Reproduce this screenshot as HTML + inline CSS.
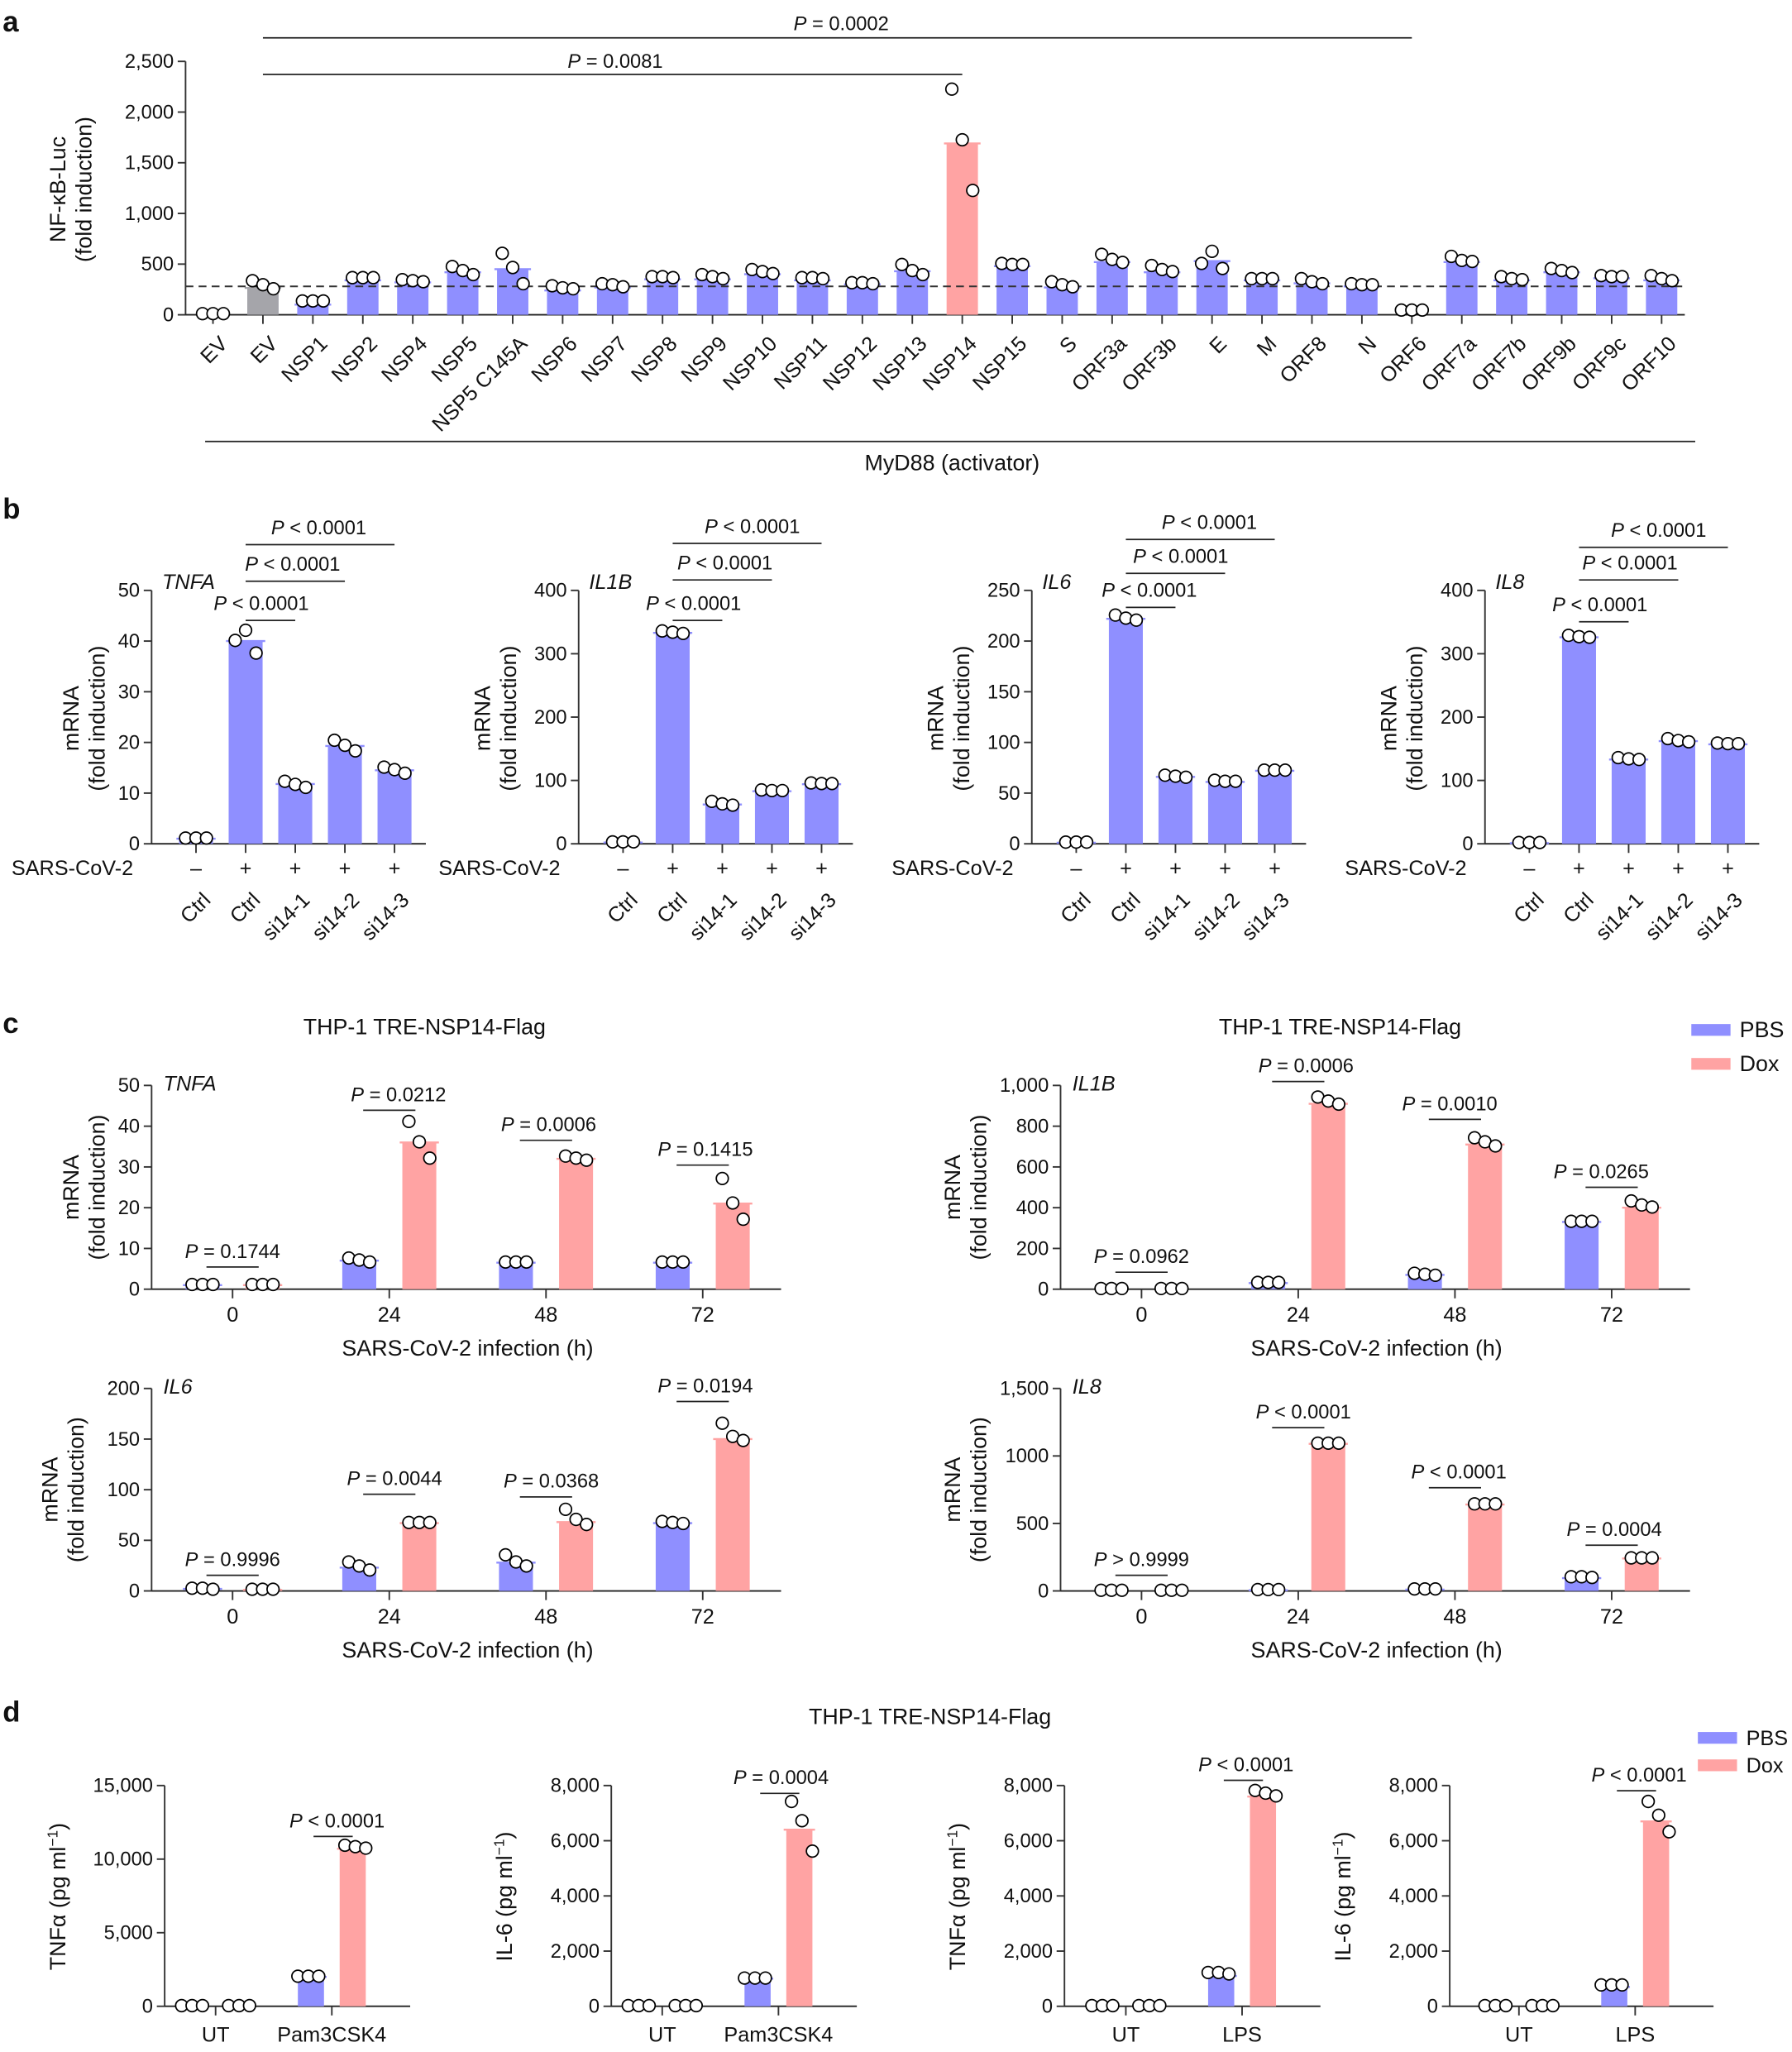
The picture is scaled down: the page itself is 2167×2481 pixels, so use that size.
<!DOCTYPE html>
<html><head><meta charset="utf-8">
<style>
html,body{margin:0;padding:0;background:#fff}
svg{display:block}
text{font-family:"Liberation Sans",sans-serif;fill:#111}
</style></head>
<body>
<svg id="fig" xmlns="http://www.w3.org/2000/svg" width="2167" height="2481" viewBox="0 0 1372 1571"></svg>
<script>
// ---------- DATA ----------
const aCats=["EV","EV","NSP1","NSP2","NSP4","NSP5","NSP5 C145A","NSP6","NSP7","NSP8","NSP9","NSP10","NSP11","NSP12","NSP13","NSP14","NSP15","S","ORF3a","ORF3b","E","M","ORF8","N","ORF6","ORF7a","ORF7b","ORF9b","ORF9c","ORF10"];
const aVals=[0,265,100,340,320,420,450,240,270,350,350,400,340,300,430,1690,480,270,520,420,530,340,310,280,0,520,340,420,360,340];
const aPts=[[5,5,5],[330,290,250],[130,130,130],[360,360,360],[340,330,320],[470,430,390],[600,460,300],[280,260,250],[300,290,270],[370,370,360],[390,370,350],[440,420,400],[360,360,350],[310,310,300],[490,430,390],[2220,1720,1220],[500,490,490],[320,290,270],[590,540,510],[480,440,420],[500,620,450],[350,350,350],[350,320,300],[300,290,290],[40,40,40],[570,530,520],[370,350,340],[450,430,410],[380,370,370],[380,350,330]];
const aColors=["none","gray","b","b","b","b","b","b","b","b","b","b","b","b","b","r","b","b","b","b","b","b","b","b","r","b","b","b","b","b"];
const aTicks=[0,500,1000,1500,2000,2500];
const aTickLabels=["0","500","1,000","1,500","2,000","2,500"];
const aDashed=280;

const bCats=["Ctrl","Ctrl","si14-1","si14-2","si14-3"];
const bSigns=["–","+","+","+","+"];
const bGenes=["TNFA","IL1B","IL6","IL8"];
const bMax=[50,400,250,400];
const bTicks=[[0,10,20,30,40,50],[0,100,200,300,400],[0,50,100,150,200,250],[0,100,200,300,400]];
const bVals=[[1,40,11.8,19.3,14.5],[2,333,62,83,94],[1,222,66,61,72],[1,326,133,162,157]];
const bPts=[[[1,1,1],[40,42,37.5],[12.2,11.6,11],[20.3,19.3,18.2],[15,14.5,13.8]],[[2,2,2],[335,333,331],[66,62,60],[84,83,83],[95,94,94]],[[1,1,1],[225,222,220],[67,66,65],[62,61,61],[72,72,72]],[[1,1,1],[328,326,325],[135,133,132],[165,162,160],[158,157,157]]];

const cGroups=["0","24","48","72"];
const cGenes=["TNFA","IL1B","IL6","IL8"];
const cMax=[50,1000,200,1500];
const cTicks=[[0,10,20,30,40,50],[0,200,400,600,800,1000],[0,50,100,150,200],[0,500,1000,1500]];
const cTickLabels=[["0","10","20","30","40","50"],["0","200","400","600","800","1,000"],["0","50","100","150","200"],["0","500","1000","1,500"]];
const cPBS=[[1,7,6.5,6.5],[0,30,70,330],[2,23,28,67],[0,5,10,95]];
const cDox=[[1,36,32,21],[0,910,710,400],[1,67,68,150],[0,1090,640,240]];
const cPBSpts=[[[1,1,1],[7.5,7,6.5],[6.5,6.5,6.5],[6.5,6.5,6.5]],[[0,0,0],[30,30,30],[75,70,65],[330,330,330]],[[2,2,1],[28,24,20],[35,28,24],[68,67,66]],[[0,0,0],[5,5,5],[10,10,10],[100,100,95]]];
const cDoxPts=[[[1,1,1],[41,36,32],[32.5,32,31.5],[27,21,17]],[[0,0,0],[940,920,905],[740,720,700],[430,410,400]],[[1,1,1],[67,67,67],[80,70,65],[165,152,148]],[[0,0,0],[1090,1090,1090],[640,640,640],[240,240,240]]];
const cP=[["P = 0.1744","P = 0.0212","P = 0.0006","P = 0.1415"],["P = 0.0962","P = 0.0006","P = 0.0010","P = 0.0265"],["P = 0.9996","P = 0.0044","P = 0.0368","P = 0.0194"],["P > 0.9999","P < 0.0001","P < 0.0001","P = 0.0004"]];

const dGroups=[["UT","Pam3CSK4"],["UT","Pam3CSK4"],["UT","LPS"],["UT","LPS"]];
const dMax=[15000,8000,8000,8000];
const dTicks=[[0,5000,10000,15000],[0,2000,4000,6000,8000],[0,2000,4000,6000,8000],[0,2000,4000,6000,8000]];
const dTickLabels=[["0","5,000","10,000","15,000"],["0","2,000","4,000","6,000","8,000"],["0","2,000","4,000","6,000","8,000"],["0","2,000","4,000","6,000","8,000"]];
const dPBS=[[0,2000],[0,1000],[0,1100],[0,700]];
const dDox=[[0,10700],[0,6400],[0,7600],[0,6700]];
const dPBSpts=[[[0,0,0],[2000,2000,2000]],[[0,0,0],[1000,1000,1000]],[[0,0,0],[1200,1200,1150]],[[0,0,0],[750,750,750]]];
const dDoxPts=[[[0,0,0],[10900,10800,10700]],[[0,0,0],[7400,6700,5600]],[[0,0,0],[7800,7700,7600]],[[0,0,0],[7400,6900,6300]]];
const dP=["P < 0.0001","P = 0.0004","P < 0.0001","P < 0.0001"];
const dYTitles=["TNFα (pg ml","IL-6 (pg ml","TNFα (pg ml","IL-6 (pg ml"];

// ---------- HELPERS ----------
const NS="http://www.w3.org/2000/svg";
const fig=document.getElementById('fig');
const COL={b:"#8f8fff",r:"#ffa3a3",gray:"#a5a5aa"};
function el(tag,attrs,parent,txt){const e=document.createElementNS(NS,tag);for(const k in attrs)e.setAttribute(k,attrs[k]);if(txt!==undefined)e.textContent=txt;(parent||fig).appendChild(e);return e;}
function grp(name){const g=el('g',{},fig);


return g;}
function yScale(y0,ytop,vmax){return v=>y0-(v/vmax)*(y0-ytop);}
function yAxis(g,x,y0,ytop,vmax,ticks,labels,fs){const ys=yScale(y0,ytop,vmax);
 el('line',{x1:x,y1:y0+0.5,x2:x,y2:ytop,stroke:"#333","stroke-width":1.2},g);
 ticks.forEach((t,i)=>{const y=ys(t);el('line',{x1:x-6,y1:y,x2:x,y2:y,stroke:"#333","stroke-width":1.2},g);
  const tx=el('text',{x:x-9,y:y+5,"text-anchor":"end","font-size":fs||15},g,labels?labels[i]:String(t));
  
  });
 return ys;}
function bar(g,xc,w,v,ys,color,name){if(v<=0)return;const y=ys(v);const r=el('rect',{x:xc-w/2,y:y,width:w,height:ys(0)-y,fill:color},g);
 
 
 el('line',{x1:xc-w/2-2,x2:xc+w/2+2,y1:y,y2:y,stroke:color,"stroke-width":1.5},g);}
function dots(g,xc,pts,ys,dx){pts.forEach((p,i)=>{const c=el('circle',{cx:xc+(i-1)*dx,cy:ys(p)-0.5,r:4.6,fill:"#fff",stroke:"#000","stroke-width":1.1},g);
 
 });}
function ptext(g,x,y,label,anchor){
 const t=el('text',{x:x,y:y,"text-anchor":anchor||"middle","font-size":15},g);
 
 
 el('tspan',{"font-style":"italic"},t,label.slice(0,1));el('tspan',{},t,label.slice(1));return t;}
function hline(g,x1,x2,y,w){el('line',{x1:x1,x2:x2,y1:y,y2:y,stroke:"#222","stroke-width":w||1.1},g);}
function letter(t,x,y){const e=el('text',{x:x,y:y,"font-size":22,"font-weight":"bold"},fig,t);
 
 }
function ytitle(g,x,yc,l1,l2,fs){const t=el('text',{transform:`translate(${x},${yc}) rotate(-90)`,"text-anchor":"middle","font-size":fs||17},g);
 
 
 el('tspan',{x:0,dy:0},t,l1);if(l2)el('tspan',{x:0,dy:20},t,l2);}

// ---------- PANEL A ----------
letter('a',2,24);
(function(){const g=grp('panel-a');
 const ys=yAxis(g,142,241,47,2500,aTicks,aTickLabels,15);
 const xa=i=>163+i*38.25;
 hline(g,142,1290,241,1.2);
 aCats.forEach((c,i)=>{const x=xa(i);
  el('line',{x1:x,x2:x,y1:241,y2:248,stroke:"#333","stroke-width":1.2},g);
  if(aColors[i]!=="none") bar(g,x,24,aVals[i],ys,COL[aColors[i]],'bar-'+c.toLowerCase().replace(' ','-'));
  const t=el('text',{transform:`translate(${x+5},${257}) rotate(-45)`,"text-anchor":"end","font-size":16,dy:10},g,c);
  
  
 });
 const dl=el('line',{x1:142,x2:1290,y1:ys(aDashed),y2:ys(aDashed),stroke:"#333","stroke-width":1.3,"stroke-dasharray":"6,4"},g);
 
 
 aCats.forEach((c,i)=>dots(g,xa(i),aPts[i],ys,8));
 hline(g,xa(1),xa(24),29);ptext(g,644,23,"P = 0.0002");
 hline(g,xa(1),xa(15),57);ptext(g,471,52,"P = 0.0081");
 ytitle(g,50,145,"NF-κB-Luc","(fold induction)");
 hline(g,157,1298,338);
 const m=el('text',{x:729,y:360,"text-anchor":"middle","font-size":17},g,"MyD88 (activator)");
 
 
})();

// ---------- PANEL B ----------
letter('b',2,397);
const bAxisX=[116,443,790,1137];
const bTitleOff=[-56,-68,-68,-68];
const bPpos=[[[200,467],[224,437],[244,409]],[[531,467],[555,436],[576,408]],[[880,457],[904,431],[926,405]],[[1225,468],[1248,436],[1270,411]]];
bGenes.forEach((gname,k)=>{const g=grp('panel-b-'+gname.toLowerCase());
 const ax=bAxisX[k];
 const ys=yAxis(g,ax,646,452,bMax[k],bTicks[k],null,15);
 const xb=i=>ax+34+i*38;
 hline(g,ax,xb(4)+24,646,1.2);
 bCats.forEach((c,i)=>{const x=xb(i);
  el('line',{x1:x,x2:x,y1:646,y2:653,stroke:"#333","stroke-width":1.2},g);
  bar(g,x,26,bVals[k][i],ys,COL.b,'bar-'+c);
  dots(g,x,bPts[k][i],ys,8);
  el('text',{x:x,y:670,"text-anchor":"middle","font-size":16},g,bSigns[i]);
  const t=el('text',{transform:`translate(${x+5},${683}) rotate(-45)`,"text-anchor":"end","font-size":16,dy:10},g,c);
  
  
 });
 el('text',{x:ax-14,y:670,"text-anchor":"end","font-size":16},g,"SARS-CoV-2");
 const gt=el('text',{x:ax+8,y:451,"font-size":16,"font-style":"italic"},g,gname);
 
 
 ytitle(g,ax+bTitleOff[k],550,"mRNA","(fold induction)");
 [2,3,4].forEach((kk,j)=>{const [px,py]=bPpos[k][j];ptext(g,px,py,"P < 0.0001");hline(g,xb(1),xb(kk),py+8);});
});

// ---------- PANEL C ----------
letter('c',2,791);
const cAx=[[116,987,831],[812,987,831],[116,1218,1063],[812,1218,1063]];
const cTitleOff=[-56,-77,-72,-77];
const cPpos=[[[178,963],[305,843],[420,866],[540,885]],[[874,967],[1000,821],[1110,850],[1226,902]],[[178,1199],[302,1137],[422,1139],[540,1066]],[[874,1199],[998,1086],[1117,1132],[1236,1176]]];
cGenes.forEach((gname,k)=>{const g=grp('panel-c-'+gname.toLowerCase());
 const [ax,y0,yt]=cAx[k];
 const ys=yAxis(g,ax,y0,yt,cMax[k],cTicks[k],cTickLabels[k],15);
 const xg=i=>ax+62+i*120;
 hline(g,ax,ax+482,y0,1.2);
 cGroups.forEach((c,i)=>{const x=xg(i);
  el('line',{x1:x,x2:x,y1:y0,y2:y0+7,stroke:"#333","stroke-width":1.2},g);
  bar(g,x-23,26,cPBS[k][i],ys,COL.b,'bar-pbs-'+c);
  bar(g,x+23,26,cDox[k][i],ys,COL.r,'bar-dox-'+c);
  dots(g,x-23,cPBSpts[k][i],ys,8);dots(g,x+23,cDoxPts[k][i],ys,8);
  el('text',{x:x,y:y0+25,"text-anchor":"middle","font-size":16},g,c);
  const [px,py]=cPpos[k][i];ptext(g,px,py,cP[k][i]);hline(g,x-20,x+20,py+7);
 });
 const xt=el('text',{x:ax+242,y:y0+51,"text-anchor":"middle","font-size":17},g,"SARS-CoV-2 infection (h)");
 
 
 const gt=el('text',{x:ax+9,y:yt+4,"font-size":16,"font-style":"italic"},g,gname);
 
 
 ytitle(g,ax+cTitleOff[k],(y0+yt)/2,"mRNA","(fold induction)");
});
[[325,"c-left"],[1026,"c-right"]].forEach(([x,n])=>{const t=el('text',{x:x,y:792,"text-anchor":"middle","font-size":17},fig,"THP-1 TRE-NSP14-Flag");
 
 });
function legend(x,y,gap,name,fs){const g=grp(name);
 const r1=el('rect',{x:x,y:y,width:30,height:9,fill:COL.b},g);
 
 
 el('text',{x:x+37,y:y+10,"font-size":fs},g,"PBS");
 const r2=el('rect',{x:x,y:y+gap,width:30,height:9,fill:COL.r},g);
 
 
 el('text',{x:x+37,y:y+gap+10,"font-size":fs},g,"Dox");}
legend(1295,784,26,'legend-c',17);

// ---------- PANEL D ----------
letter('d',2,1318);
const dt=el('text',{x:712,y:1320,"text-anchor":"middle","font-size":17},fig,"THP-1 TRE-NSP14-Flag");


const dAx=[126,468,815,1110];
const dPpos=[[258,1399],[598,1366],[954,1356],[1255,1364]];
dAx.forEach((ax,k)=>{const g=grp('panel-d-'+k);
 const ys=yAxis(g,ax,1536,1367,dMax[k],dTicks[k],dTickLabels[k],15);
 const xg=i=>ax+(k===0?39:(k===1?39:(k===2?47:53)))+i*89;
 hline(g,ax,xg(1)+60,1536,1.2);
 dGroups[k].forEach((c,i)=>{const x=xg(i);
  el('line',{x1:x,x2:x,y1:1536,y2:1543,stroke:"#333","stroke-width":1.2},g);
  bar(g,x-16,20,dPBS[k][i],ys,COL.b,'bar-pbs-'+c);
  bar(g,x+16,20,dDox[k][i],ys,COL.r,'bar-dox-'+c);
  dots(g,x-18,dPBSpts[k][i],ys,8);dots(g,x+18,dDoxPts[k][i],ys,8);
  el('text',{x:x,y:1563,"text-anchor":"middle","font-size":16},g,c);
 });
 const [px,py]=dPpos[k];ptext(g,px,py,dP[k]);hline(g,xg(1)-14,xg(1)+16,py+7);
 const t=el('text',{transform:`translate(${ax-76},1452) rotate(-90)`,"text-anchor":"middle","font-size":17},g);
 
 
 el('tspan',{},t,dYTitles[k]);el('tspan',{dy:-6,"font-size":11},t,"−1");el('tspan',{dy:6},t,")");
});
legend(1300,1326,21,'legend-d',16);
</script>
</body></html>
